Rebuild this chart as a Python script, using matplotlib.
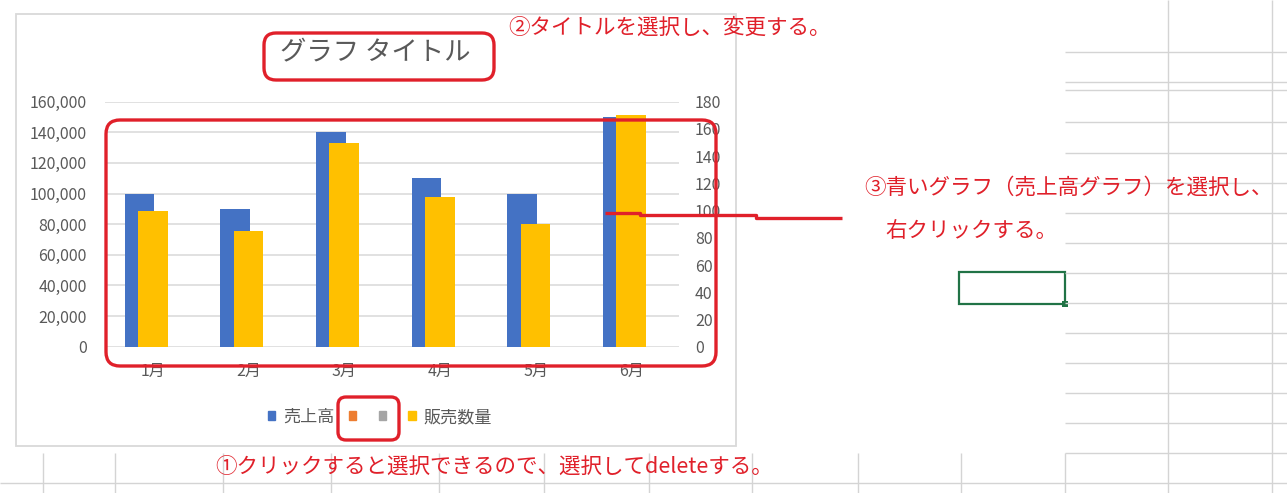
"""Excel-style combo bar chart screenshot with red tutorial annotations."""

import numpy as np
import matplotlib
matplotlib.use("Agg")
import matplotlib.pyplot as plt
from matplotlib.patches import Patch, Rectangle, FancyBboxPatch

plt.rcParams["font.family"] = ["Noto Sans CJK JP", "DejaVu Sans"]

# --- data ---
months = ["1月", "2月", "3月", "4月", "5月", "6月"]
sales = [100000, 90000, 140000, 110000, 100000, 150000]   # 売上高 (left axis)
qty = [100, 85, 150, 110, 90, 170]                          # 販売数量 (right axis)
legend_labels = ["売上高", "", "", "販売数量"]               # series 2/3 have no name
legend_colors = ["#4472C4", "#ED7D31", "#A5A5A5", "#FFC000"]
left_ticks = list(range(0, 160001, 20000))
right_ticks = list(range(0, 181, 20))

title = "グラフ タイトル"
note1 = "①クリックすると選択できるので、選択してdeleteする。"
note2 = "②タイトルを選択し、変更する。"
note3a = "③青いグラフ（売上高グラフ）を選択し、"
note3b = "右クリックする。"

W, H = 1287, 493
RED = "#E0202A"
GRAY_TXT = "#595959"
GRID = "#D4D4D4"

fig = plt.figure(figsize=(W / 100, H / 100), dpi=100)

# background: spreadsheet cells + chart frame, in pixel coordinates
bg = fig.add_axes([0, 0, 1, 1])
bg.set_xlim(0, W)
bg.set_ylim(H, 0)
bg.axis("off")
bg.set_zorder(0)

row_y = [52, 82, 90, 122, 153, 183, 213, 243, 273, 303, 333, 363, 393, 423, 453]
bg.hlines(row_y, 1065, W, color=GRID, lw=1)
bg.hlines([483], 0, W, color=GRID, lw=1)
bg.vlines([1168, 1272], 0, H, color=GRID, lw=1)
bg.vlines([43, 115, 223, 331, 439, 544, 649, 752, 858, 961, 1065], 453, H, color=GRID, lw=1)
bg.add_patch(Rectangle((16, 14), 720, 432, fc="white", ec="#D9D9D9", lw=1.3))
bg.add_patch(Rectangle((959, 272), 106, 32, fc="none", ec="#217346", lw=1.6))
bg.add_patch(Rectangle((1062, 301), 6, 6, fc="#217346", ec="none"))
bg.text(375.5, 53, title, fontsize=19, color=GRAY_TXT, ha="center", va="center")

# chart plot area
x = np.arange(len(months))
ax = fig.add_axes([105 / W, 1 - 346.7 / H, 574 / W, 245 / H])
ax.set_facecolor("none")
ax2 = ax.twinx()
ax.set_zorder(1)
ax2.set_zorder(2)
ax2.patch.set_visible(False)

ax.bar(x - 0.138, sales, 0.31, color=legend_colors[0], zorder=3)
ax2.bar(x, qty, 0.31, color=legend_colors[3], zorder=3)

ax.set_xlim(-0.5, len(months) - 0.5)
ax.set_ylim(0, 160000)
ax2.set_ylim(0, 180)
ax.set_yticks(left_ticks)
ax.set_yticklabels([f"{v:,}" for v in left_ticks])
ax2.set_yticks(right_ticks)
ax.set_xticks(x)
ax.set_xticklabels(months)
ax.grid(axis="y", color="#D9D9D9", lw=1.1)
ax.set_axisbelow(True)
ax2.grid(False)
ax.tick_params(axis="y", length=0, labelsize=11.5, labelcolor=GRAY_TXT, pad=13)
ax.tick_params(axis="x", length=0, labelsize=11.5, labelcolor=GRAY_TXT, pad=12)
ax2.tick_params(axis="y", length=0, labelsize=11.5, labelcolor=GRAY_TXT, pad=11.5)
for a in (ax, ax2):
    for s in a.spines.values():
        s.set_visible(False)

handles = [Patch(color=c) for c in legend_colors]
fig.legend(handles, legend_labels, loc="center", bbox_to_anchor=(380 / W, 1 - 417 / H),
           ncol=4, frameon=False, fontsize=12.3, labelcolor=GRAY_TXT,
           handlelength=0.42, handleheight=0.42, handletextpad=0.48, columnspacing=0.84)

# red annotations on top
ann = fig.add_axes([0, 0, 1, 1])
ann.set_xlim(0, W)
ann.set_ylim(H, 0)
ann.axis("off")
ann.set_zorder(10)
ann.patch.set_visible(False)

ann.add_patch(FancyBboxPatch((264, 33), 230, 47, boxstyle="round,pad=0,rounding_size=12",
                             fc="none", ec=RED, lw=2.4))
ann.add_patch(FancyBboxPatch((106, 120), 610, 246, boxstyle="round,pad=0,rounding_size=14",
                             fc="none", ec=RED, lw=2.4))
ann.add_patch(FancyBboxPatch((338, 397), 61, 43, boxstyle="round,pad=0,rounding_size=8",
                             fc="none", ec=RED, lw=2.4))
ann.plot([605, 640, 640, 756, 756, 842], [213, 213, 215, 215, 218, 218],
         color=RED, lw=2.4, solid_capstyle="butt")

ann.text(508, 28, note2, fontsize=15.5, color=RED, ha="left", va="center")
ann.text(864, 188, note3a, fontsize=15.5, color=RED, ha="left", va="center")
ann.text(885, 231, note3b, fontsize=15.5, color=RED, ha="left", va="center")
ann.text(215, 467, note1, fontsize=15.5, color=RED, ha="left", va="center")

fig.savefig("out.png", dpi=100)
